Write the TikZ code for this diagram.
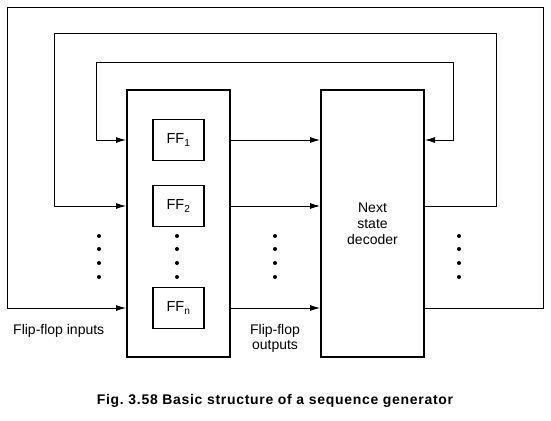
\documentclass[tikz,border=0pt]{standalone}
\usepackage{fontspec}
\setmainfont{Liberation Sans}
\usetikzlibrary{arrows.meta}
\begin{document}
\begin{tikzpicture}[x=1pt,y=-1pt,
  wire/.style={line width=0.9pt},
  arr/.style={wire,-{Latex[length=10pt,width=6pt]}},
  bigbox/.style={draw,line width=2pt,minimum width=103pt,minimum height=267pt,inner sep=0pt},
  ffbox/.style={draw,line width=1.2pt,minimum width=51pt,minimum height=41pt,inner sep=0pt,font=\fontsize{14.5}{16}\selectfont},
  dotm/.style={circle,fill,inner sep=0pt,minimum size=4pt},
  lbl/.style={font=\fontsize{14}{16}\selectfont,align=center,inner sep=0pt}]
\useasboundingbox (0,0) rectangle (551,420);
% blocks
\node[bigbox] (ffblk) at (178.5,223.5) {};
\node[bigbox] (dec) at (372.5,223.5) {};
\node[ffbox] (ff1) at (178.5,140) {FF\textsubscript{1}};
\node[ffbox] (ff2) at (178.5,206) {FF\textsubscript{2}};
\node[ffbox] (ffn) at (178.5,308) {FF\textsubscript{n}};
% corner coordinates of loops
\coordinate (o1) at (543,7);
\coordinate (o2) at (7,7);
\coordinate (m1) at (496,33);
\coordinate (m2) at (54,33);
\coordinate (i1) at (453,62);
\coordinate (i2) at (96,62);
% forward connections
\draw[arr] (ffblk.east |- ff1) -- (dec.west |- ff1);
\draw[arr] (ffblk.east |- ff2) -- (dec.west |- ff2);
\draw[arr] (ffblk.east |- ffn) -- (dec.west |- ffn);
% feedback loops
\draw[arr] (dec.east |- ffn) -- (o1 |- ffn) -- (o1) -- (o2) -- (o2 |- ffn) -- (ffblk.west |- ffn);
\draw[arr] (dec.east |- ff2) -- (m1 |- ff2) -- (m1) -- (m2) -- (m2 |- ff2) -- (ffblk.west |- ff2);
\draw[arr] (i2 |- ff1) -- (i2) -- (i1) -- (i1 |- ff1) -- (dec.east |- ff1);
\draw[arr] (i2 |- ff1) -- (ffblk.west |- ff1);
% dots
\foreach \x/\n in {99/a,177/b,275/c,459/d}{
  \foreach \y/\k in {236/1,249/2,263/3,277/4}{
    \node[dotm] (dot\n\k) at (\x,\y) {};
  }
}
% labels
\node[lbl] (dectxt) at (372.5,224) {Next\\state\\decoder};
\node[lbl,anchor=west] (inlbl) at (13,331) {Flip-flop inputs};
\node[lbl,font=\fontsize{14}{15}\selectfont] (outlbl) at (275,338) {Flip-flop\\outputs};
\node[inner sep=0pt,font=\bfseries\fontsize{14}{16}\selectfont\addfontfeatures{LetterSpace=5}] (cap) at (275,401) {Fig.\ 3.58\ Basic\ structure\ of\ a\ sequence\ generator};
\end{tikzpicture}
\end{document}
